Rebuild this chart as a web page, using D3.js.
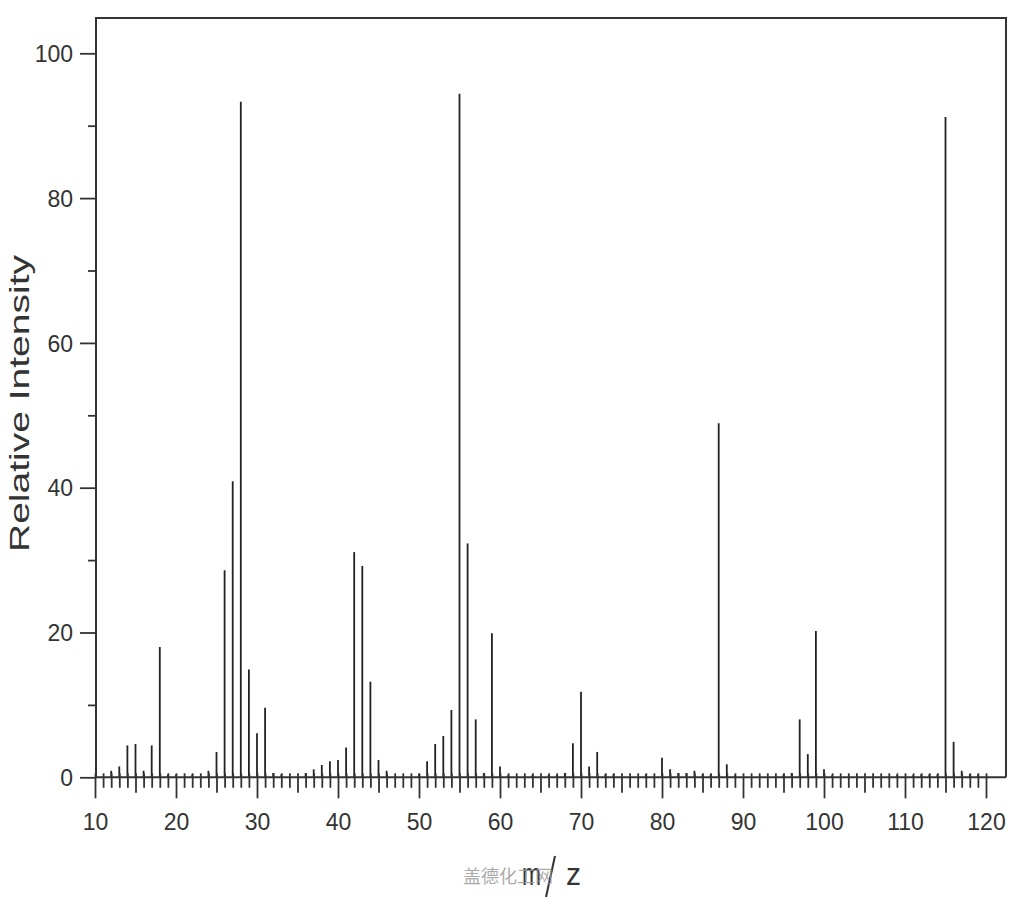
<!DOCTYPE html>
<html>
<head>
<meta charset="utf-8">
<script src="https://cdn.jsdelivr.net/npm/d3@7/dist/d3.min.js"></script>
<style>
html,body{margin:0;padding:0;background:#fff;}
svg{display:block;}
</style>
</head>
<body>
<svg id="chart" width="1024" height="900"></svg>
<script>
// m/z values and relative intensities
const mz = [12,13,14,15,16,17,18,19,20,22,24,25,26,27,28,29,30,31,32,33,
            36,37,38,39,40,41,42,43,44,45,46,50,51,52,53,54,55,56,57,58,
            59,60,61,64,66,67,68,69,70,71,72,73,74,78,80,81,82,83,84,85,
            86,87,88,89,95,96,97,98,99,100,101,109,111,112,113,114,115,116,117,118,119];
const intensity = [0.9,1.5,4.4,4.6,0.9,4.4,18.0,0.4,0.4,0.4,0.9,3.5,28.6,40.9,93.3,14.9,6.1,9.6,0.6,0.4,
            0.6,1.1,1.7,2.2,2.4,4.1,31.1,29.2,13.2,2.4,0.9,0.5,2.2,4.6,5.7,9.3,94.4,32.3,8.0,0.6,
            19.9,1.5,0.3,0.3,0.3,0.3,0.6,4.7,11.8,1.5,3.5,0.4,0.4,0.4,2.7,1.1,0.6,0.6,0.9,0.4,
            0.4,48.9,1.8,0.3,0.4,0.6,8.0,3.2,20.2,1.1,0.3,0.3,0.3,0.4,0.4,0.4,91.2,4.9,0.9,0.4,0.4];
const xTickLabels = [10,20,30,40,50,60,70,80,90,100,110,120];
const yTickLabels = [0,20,40,60,80,100];
const xTitle = "m/z";
const yTitle = "Relative Intensity";
const watermark = "盖德化工网";

const svg = d3.select("#chart");
const ink = "#333";
const font = "'Liberation Sans', Arial, sans-serif";

const x = d3.scaleLinear().domain([10,120]).range([95,986]);
const y = d3.scaleLinear().domain([0,100]).range([777.3,53.3]);
const y0 = y(0);

// frame (left, top, right)
svg.append("path")
  .attr("d", `M96,${y0} V18 H1006 V${y0}`)
  .attr("fill","none").attr("stroke",ink).attr("stroke-width",2);

// peaks
svg.append("g").selectAll("line").data(mz).join("line")
  .attr("x1", d => x(d)).attr("x2", d => x(d))
  .attr("y1", y0).attr("y2", (d,i) => y(intensity[i]))
  .attr("stroke", "#222").attr("stroke-width", 1.8);

// x axis ticks (every unit, crossing the baseline)
const xAxisG = svg.append("g").attr("transform", `translate(0,${y0})`)
  .call(d3.axisBottom(x).tickValues(d3.range(10,121)).tickSize(10).tickFormat(""));
xAxisG.select(".domain").remove();
xAxisG.selectAll(".tick line")
  .attr("stroke", ink).attr("stroke-width", 1.8)
  .attr("y1", -4)
  .attr("y2", d => d % 10 === 0 ? 21 : (d % 5 === 0 ? 15.5 : 10.5));

// baseline
svg.append("line").attr("x1",96).attr("x2",1006).attr("y1",y0).attr("y2",y0)
  .attr("stroke",ink).attr("stroke-width",2);

// x labels
const xLab = svg.append("g").attr("transform", `translate(0,${y0})`)
  .call(d3.axisBottom(x).tickValues(xTickLabels).tickSize(0).tickPadding(35).tickFormat(d3.format("d")));
xLab.select(".domain").remove();
xLab.selectAll("text").attr("font-family", font).attr("font-size", 23).attr("fill", ink)
  .attr("dy", "0").attr("y", 52.5);

// y axis
const yAxisG = svg.append("g").attr("transform", "translate(96,0)")
  .call(d3.axisLeft(y).tickValues(d3.range(0,101,10)).tickSize(8).tickFormat(""));
yAxisG.select(".domain").remove();
yAxisG.selectAll(".tick line").attr("stroke", ink).attr("stroke-width", 1.8)
  .attr("x2", d => d % 20 === 0 ? -16 : -8);

const yLab = svg.append("g").attr("transform", "translate(96,0)")
  .call(d3.axisLeft(y).tickValues(yTickLabels).tickSize(0).tickPadding(23).tickFormat(d3.format("d")));
yLab.select(".domain").remove();
yLab.selectAll("text").attr("font-family", font).attr("font-size", 23).attr("fill", ink)
  .attr("dy", "0.36em");

// y title
svg.append("text")
  .attr("transform", "translate(29,552) rotate(-90)")
  .attr("font-family", font).attr("font-size", 28).attr("fill", ink)
  .attr("textLength", 297).attr("lengthAdjust", "spacingAndGlyphs")
  .text(yTitle);

// x title "m/z" with tall slash
const parts = xTitle.split("/");
svg.append("text").attr("x", 522).attr("y", 885)
  .attr("font-family", font).attr("font-size", 32).attr("fill", ink)
  .attr("textLength", 19).attr("lengthAdjust", "spacingAndGlyphs")
  .text(parts[0]);
svg.append("line").attr("x1", 546).attr("y1", 897).attr("x2", 555).attr("y2", 856)
  .attr("stroke", ink).attr("stroke-width", 2);
svg.append("text").attr("x", 566).attr("y", 885)
  .attr("font-family", font).attr("font-size", 32).attr("fill", ink)
  .attr("textLength", 15).attr("lengthAdjust", "spacingAndGlyphs")
  .text(parts[1]);

// watermark
svg.append("text").attr("x", 463).attr("y", 883)
  .attr("font-family", "'Noto Sans CJK SC', sans-serif").attr("font-size", 18)
  .attr("fill", "#9a9a9a").attr("fill-opacity", 0.85)
  .text(watermark);
</script>
</body>
</html>
